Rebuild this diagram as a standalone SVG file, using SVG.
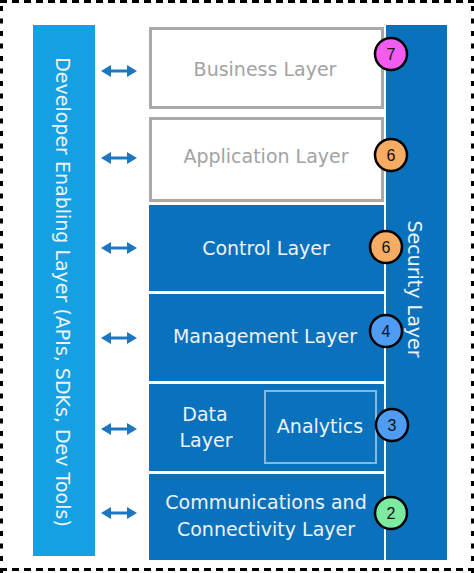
<svg xmlns="http://www.w3.org/2000/svg" width="474" height="573" viewBox="0 0 474 573">
<style>
.t{font-family:"DejaVu Sans","Open Sans","Liberation Sans",sans-serif;font-size:19px;text-anchor:middle}
.g{fill:#a3a3a3}
.w{fill:#eef3f8}
.blue{fill:#0a71bd}
.gbox{fill:#ffffff;stroke:#a9a9a9;stroke-width:3}
.num{font-family:"Liberation Sans",Arial,sans-serif;font-size:16px;text-anchor:middle;fill:#111}
.c{stroke:#000;stroke-width:2.5}
.arr{stroke:#1d76c0;stroke-width:3;fill:none}
.dh{stroke:#000;stroke-width:3;stroke-dasharray:7 5;fill:none}
.dv{stroke:#000;stroke-width:3;stroke-dasharray:5 7.5;fill:none}
</style>
<defs>
<marker id="ah" markerUnits="userSpaceOnUse" markerWidth="12" markerHeight="14" refX="5" refY="6" orient="auto-start-reverse">
<path d="M0,0 L10,6 L0,12 Z" fill="#1d76c0"/>
</marker>
</defs>
<rect x="0" y="0" width="474" height="573" fill="#ffffff"/>
<g id="frame">
<line class="dh" x1="0" y1="1.5" x2="474" y2="1.5"/>
<line class="dh" x1="0" y1="569.5" x2="474" y2="569.5"/>
<line class="dv" x1="1.5" y1="6" x2="1.5" y2="573"/>
<line class="dv" x1="472.5" y1="6" x2="472.5" y2="573"/>
</g>
<g id="developer">
<rect x="33" y="25" width="62" height="531" fill="#14a0e3"/>
<text class="t w" transform="translate(56 292) rotate(90)">Developer Enabling Layer (APIs, SDKs, Dev Tools)</text>
</g>
<g id="security">
<rect x="386" y="25" width="61" height="535" class="blue"/>
<text class="t w" transform="translate(408 289) rotate(90)">Security Layer</text>
</g>
<g id="business">
<rect class="gbox" x="150.5" y="28.5" width="232" height="79"/>
<text class="t g" x="265" y="76">Business Layer</text>
</g>
<g id="application">
<rect class="gbox" x="150.5" y="118.5" width="232" height="82"/>
<text class="t g" x="266" y="163">Application Layer</text>
</g>
<g id="control">
<rect class="blue" x="149" y="205" width="235" height="86"/>
<text class="t w" x="266" y="255">Control Layer</text>
</g>
<g id="management">
<rect class="blue" x="149" y="294" width="235" height="87"/>
<text class="t w" x="265" y="343">Management Layer</text>
</g>
<g id="data">
<rect class="blue" x="149" y="384" width="235" height="87"/>
<text class="t w" x="205" y="421">Data</text>
<text class="t w" x="206" y="447">Layer</text>
</g>
<g id="analytics">
<rect x="265" y="391" width="111" height="72" fill="none" stroke="#86b8e2" stroke-width="2"/>
<text class="t w" x="320" y="433">Analytics</text>
</g>
<g id="communications">
<rect class="blue" x="149" y="474" width="235" height="86"/>
<text class="t w" x="266" y="509">Communications and</text>
<text class="t w" x="266" y="536">Connectivity Layer</text>
</g>
<g id="badges">
<circle class="c" cx="391" cy="54" r="16" fill="#f25cf0"/>
<text class="num" x="391" y="60">7</text>
<circle class="c" cx="391" cy="155" r="16" fill="#f6ac62"/>
<text class="num" x="391" y="161">6</text>
<circle class="c" cx="386" cy="247" r="16" fill="#f6ac62"/>
<text class="num" x="386" y="253">6</text>
<circle class="c" cx="386" cy="331" r="16" fill="#4f9cf5"/>
<text class="num" x="386" y="337">4</text>
<circle class="c" cx="392" cy="425" r="16" fill="#4f9cf5"/>
<text class="num" x="392" y="431">3</text>
<circle class="c" cx="391" cy="513" r="16" fill="#7ceaa0"/>
<text class="num" x="391" y="519">2</text>
</g>
<g id="connectors">
<line class="arr" x1="106" y1="71" x2="132" y2="71" marker-start="url(#ah)" marker-end="url(#ah)"/>
<line class="arr" x1="106" y1="158" x2="132" y2="158" marker-start="url(#ah)" marker-end="url(#ah)"/>
<line class="arr" x1="106" y1="248" x2="132" y2="248" marker-start="url(#ah)" marker-end="url(#ah)"/>
<line class="arr" x1="106" y1="338" x2="132" y2="338" marker-start="url(#ah)" marker-end="url(#ah)"/>
<line class="arr" x1="106" y1="429" x2="132" y2="429" marker-start="url(#ah)" marker-end="url(#ah)"/>
<line class="arr" x1="106" y1="513" x2="132" y2="513" marker-start="url(#ah)" marker-end="url(#ah)"/>
</g>
</svg>
